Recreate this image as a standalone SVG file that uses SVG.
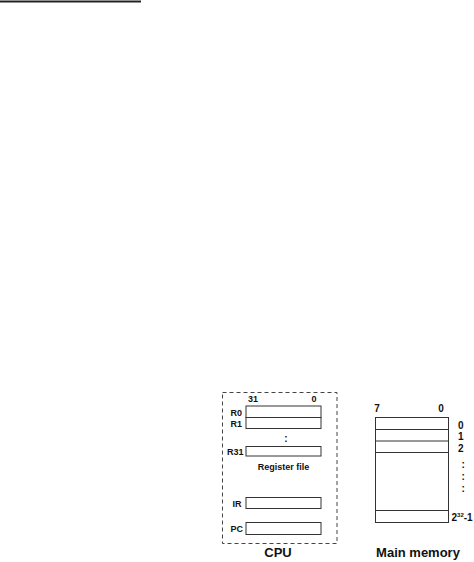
<svg xmlns="http://www.w3.org/2000/svg" width="474" height="562" viewBox="0 0 474 562">
<style>
.t{font-family:"Liberation Sans",Arial,sans-serif;font-weight:bold;fill:#111;font-size:9px}
.m{font-size:10px}
.big{font-size:13px}
.box{fill:#fff;stroke:#333;stroke-width:1}
</style>
<rect width="474" height="562" fill="#fff"/>
<line x1="0" y1="1.5" x2="141" y2="1.5" stroke="#222" stroke-width="2"/>
<g id="cpu">
<rect x="222.5" y="392.5" width="114.5" height="151" fill="none" stroke="#444" stroke-width="1" stroke-dasharray="4,3"/>
<text class="t" x="253" y="402" text-anchor="middle">31</text>
<text class="t" x="314" y="402" text-anchor="middle">0</text>
<rect class="box" x="246" y="406" width="75" height="11.5"/>
<rect class="box" x="246" y="417.5" width="75" height="11"/>
<text class="t" x="230.5" y="415.5">R0</text>
<text class="t" x="230.5" y="427">R1</text>
<text class="t m" x="286" y="442" text-anchor="middle">:</text>
<rect class="box" x="246" y="446.5" width="75" height="9.5"/>
<text class="t" x="227" y="455">R31</text>
<text class="t" x="283.5" y="470" text-anchor="middle">Register file</text>
<rect class="box" x="246" y="497.5" width="75" height="11"/>
<text class="t" x="232.5" y="507">IR</text>
<rect class="box" x="246" y="522.5" width="75" height="12"/>
<text class="t" x="230.5" y="532">PC</text>
<text class="t big" x="278" y="557" text-anchor="middle">CPU</text>
</g>
<g id="memory">
<text class="t m" x="377" y="412" text-anchor="middle">7</text>
<text class="t m" x="441" y="412" text-anchor="middle">0</text>
<rect class="box" x="375.5" y="417.5" width="73" height="105"/>
<line x1="375.5" y1="429.5" x2="448.5" y2="429.5" stroke="#333"/>
<line x1="375.5" y1="441" x2="448.5" y2="441" stroke="#333"/>
<line x1="375.5" y1="452.5" x2="448.5" y2="452.5" stroke="#333"/>
<line x1="375.5" y1="510.5" x2="448.5" y2="510.5" stroke="#333"/>
<text class="t m" x="458" y="428.5">0</text>
<text class="t m" x="458" y="440">1</text>
<text class="t m" x="458" y="451.5">2</text>
<text class="t m" x="461.5" y="468">:</text>
<text class="t m" x="461.5" y="480">:</text>
<text class="t m" x="461.5" y="492">:</text>
<text class="t m" x="451.5" y="520.5">2<tspan font-size="6" dy="-3.5">32</tspan><tspan dy="3.5">-1</tspan></text>
<text class="t big" x="418" y="557" text-anchor="middle">Main memory</text>
</g>
</svg>
